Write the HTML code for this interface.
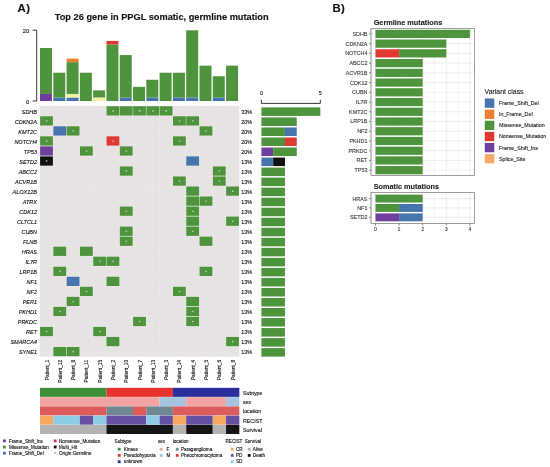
<!DOCTYPE html>
<html lang="en"><head><meta charset="utf-8"><title>Top 26 gene in PPGL somatic, germline mutation</title>
<style>
html,body{margin:0;padding:0;background:#fff;}
body{width:550px;height:467px;overflow:hidden;}
svg{display:block;font-family:"Liberation Sans",Arial,sans-serif;filter:blur(0.45px);}
</style></head><body>
<svg width="550" height="467" viewBox="0 0 550 467">
<rect x="0" y="0" width="550" height="467" fill="#ffffff"/>
<text x="17.60" y="11.90" font-size="11.4" text-anchor="start" font-weight="bold" font-style="normal" fill="#111" stroke="#111" stroke-width="0.12" letter-spacing="0.5">A)</text>
<text x="54.80" y="20.00" font-size="9.23" text-anchor="start" font-weight="bold" font-style="normal" fill="#111" stroke="#111" stroke-width="0.12" >Top 26 gene in PPGL somatic, germline mutation</text>
<text x="332.40" y="11.90" font-size="11.4" text-anchor="start" font-weight="bold" font-style="normal" fill="#111" stroke="#111" stroke-width="0.12" letter-spacing="0.5">B)</text>
<rect x="40.00" y="105.90" width="199.35" height="250.75" fill="#e7e3e3" />
<line x1="53.29" y1="105.9" x2="53.29" y2="356.65" stroke="#f0eded" stroke-width="0.4"/>
<line x1="66.58" y1="105.9" x2="66.58" y2="356.65" stroke="#f0eded" stroke-width="0.4"/>
<line x1="79.87" y1="105.9" x2="79.87" y2="356.65" stroke="#f0eded" stroke-width="0.4"/>
<line x1="93.16" y1="105.9" x2="93.16" y2="356.65" stroke="#f0eded" stroke-width="0.4"/>
<line x1="106.45" y1="105.9" x2="106.45" y2="356.65" stroke="#f0eded" stroke-width="0.4"/>
<line x1="119.74" y1="105.9" x2="119.74" y2="356.65" stroke="#f0eded" stroke-width="0.4"/>
<line x1="133.03" y1="105.9" x2="133.03" y2="356.65" stroke="#f0eded" stroke-width="0.4"/>
<line x1="146.32" y1="105.9" x2="146.32" y2="356.65" stroke="#f0eded" stroke-width="0.4"/>
<line x1="159.61" y1="105.9" x2="159.61" y2="356.65" stroke="#f0eded" stroke-width="0.4"/>
<line x1="172.90" y1="105.9" x2="172.90" y2="356.65" stroke="#f0eded" stroke-width="0.4"/>
<line x1="186.19" y1="105.9" x2="186.19" y2="356.65" stroke="#f0eded" stroke-width="0.4"/>
<line x1="199.48" y1="105.9" x2="199.48" y2="356.65" stroke="#f0eded" stroke-width="0.4"/>
<line x1="212.77" y1="105.9" x2="212.77" y2="356.65" stroke="#f0eded" stroke-width="0.4"/>
<line x1="226.06" y1="105.9" x2="226.06" y2="356.65" stroke="#f0eded" stroke-width="0.4"/>
<line x1="40.0" y1="115.93" x2="239.35" y2="115.93" stroke="#f0eded" stroke-width="0.4"/>
<line x1="40.0" y1="125.96" x2="239.35" y2="125.96" stroke="#f0eded" stroke-width="0.4"/>
<line x1="40.0" y1="135.99" x2="239.35" y2="135.99" stroke="#f0eded" stroke-width="0.4"/>
<line x1="40.0" y1="146.02" x2="239.35" y2="146.02" stroke="#f0eded" stroke-width="0.4"/>
<line x1="40.0" y1="156.05" x2="239.35" y2="156.05" stroke="#f0eded" stroke-width="0.4"/>
<line x1="40.0" y1="166.08" x2="239.35" y2="166.08" stroke="#f0eded" stroke-width="0.4"/>
<line x1="40.0" y1="176.11" x2="239.35" y2="176.11" stroke="#f0eded" stroke-width="0.4"/>
<line x1="40.0" y1="186.14" x2="239.35" y2="186.14" stroke="#f0eded" stroke-width="0.4"/>
<line x1="40.0" y1="196.17" x2="239.35" y2="196.17" stroke="#f0eded" stroke-width="0.4"/>
<line x1="40.0" y1="206.20" x2="239.35" y2="206.20" stroke="#f0eded" stroke-width="0.4"/>
<line x1="40.0" y1="216.23" x2="239.35" y2="216.23" stroke="#f0eded" stroke-width="0.4"/>
<line x1="40.0" y1="226.26" x2="239.35" y2="226.26" stroke="#f0eded" stroke-width="0.4"/>
<line x1="40.0" y1="236.29" x2="239.35" y2="236.29" stroke="#f0eded" stroke-width="0.4"/>
<line x1="40.0" y1="246.32" x2="239.35" y2="246.32" stroke="#f0eded" stroke-width="0.4"/>
<line x1="40.0" y1="256.35" x2="239.35" y2="256.35" stroke="#f0eded" stroke-width="0.4"/>
<line x1="40.0" y1="266.38" x2="239.35" y2="266.38" stroke="#f0eded" stroke-width="0.4"/>
<line x1="40.0" y1="276.41" x2="239.35" y2="276.41" stroke="#f0eded" stroke-width="0.4"/>
<line x1="40.0" y1="286.44" x2="239.35" y2="286.44" stroke="#f0eded" stroke-width="0.4"/>
<line x1="40.0" y1="296.47" x2="239.35" y2="296.47" stroke="#f0eded" stroke-width="0.4"/>
<line x1="40.0" y1="306.50" x2="239.35" y2="306.50" stroke="#f0eded" stroke-width="0.4"/>
<line x1="40.0" y1="316.53" x2="239.35" y2="316.53" stroke="#f0eded" stroke-width="0.4"/>
<line x1="40.0" y1="326.56" x2="239.35" y2="326.56" stroke="#f0eded" stroke-width="0.4"/>
<line x1="40.0" y1="336.59" x2="239.35" y2="336.59" stroke="#f0eded" stroke-width="0.4"/>
<line x1="40.0" y1="346.62" x2="239.35" y2="346.62" stroke="#f0eded" stroke-width="0.4"/>
<rect x="106.55" y="106.25" width="12.79" height="9.23" fill="#4e943c" />
<circle cx="113.09" cy="110.92" r="0.8" fill="#cfd4cc"/>
<rect x="119.84" y="106.25" width="12.79" height="9.23" fill="#4e943c" />
<rect x="133.13" y="106.25" width="12.79" height="9.23" fill="#4e943c" />
<circle cx="139.68" cy="110.92" r="0.8" fill="#cfd4cc"/>
<rect x="146.42" y="106.25" width="12.79" height="9.23" fill="#4e943c" />
<circle cx="152.97" cy="110.92" r="0.8" fill="#cfd4cc"/>
<rect x="159.71" y="106.25" width="12.79" height="9.23" fill="#4e943c" />
<circle cx="166.25" cy="110.92" r="0.8" fill="#cfd4cc"/>
<rect x="40.10" y="116.28" width="12.79" height="9.23" fill="#4e943c" />
<circle cx="46.64" cy="120.95" r="0.8" fill="#cfd4cc"/>
<rect x="173.00" y="116.28" width="12.79" height="9.23" fill="#4e943c" />
<circle cx="179.54" cy="120.95" r="0.8" fill="#cfd4cc"/>
<rect x="186.29" y="116.28" width="12.79" height="9.23" fill="#4e943c" />
<circle cx="192.84" cy="120.95" r="0.8" fill="#cfd4cc"/>
<rect x="53.39" y="126.31" width="12.79" height="9.23" fill="#4675ad" />
<rect x="66.68" y="126.31" width="12.79" height="9.23" fill="#4e943c" />
<circle cx="73.22" cy="130.97" r="0.8" fill="#cfd4cc"/>
<rect x="199.58" y="126.31" width="12.79" height="9.23" fill="#4e943c" />
<circle cx="206.12" cy="130.97" r="0.8" fill="#cfd4cc"/>
<rect x="40.10" y="136.34" width="12.79" height="9.23" fill="#4e943c" />
<circle cx="46.64" cy="141.00" r="0.8" fill="#cfd4cc"/>
<rect x="106.55" y="136.34" width="12.79" height="9.23" fill="#de3a32" />
<circle cx="113.09" cy="141.00" r="0.8" fill="#cfd4cc"/>
<rect x="173.00" y="136.34" width="12.79" height="9.23" fill="#4e943c" />
<circle cx="179.54" cy="141.00" r="0.8" fill="#cfd4cc"/>
<rect x="40.10" y="146.37" width="12.79" height="9.23" fill="#6e3f9e" />
<rect x="79.97" y="146.37" width="12.79" height="9.23" fill="#4e943c" />
<circle cx="86.52" cy="151.03" r="0.8" fill="#cfd4cc"/>
<rect x="119.84" y="146.37" width="12.79" height="9.23" fill="#4e943c" />
<circle cx="126.38" cy="151.03" r="0.8" fill="#cfd4cc"/>
<rect x="40.10" y="156.40" width="12.79" height="9.23" fill="#111111" />
<circle cx="46.64" cy="161.06" r="0.8" fill="#cfd4cc"/>
<rect x="186.29" y="156.40" width="12.79" height="9.23" fill="#4675ad" />
<rect x="119.84" y="166.43" width="12.79" height="9.23" fill="#4e943c" />
<circle cx="126.38" cy="171.09" r="0.8" fill="#cfd4cc"/>
<rect x="212.87" y="166.43" width="12.79" height="9.23" fill="#4e943c" />
<circle cx="219.41" cy="171.09" r="0.8" fill="#cfd4cc"/>
<rect x="173.00" y="176.46" width="12.79" height="9.23" fill="#4e943c" />
<circle cx="179.54" cy="181.12" r="0.8" fill="#cfd4cc"/>
<rect x="212.87" y="176.46" width="12.79" height="9.23" fill="#4e943c" />
<circle cx="219.41" cy="181.12" r="0.8" fill="#cfd4cc"/>
<rect x="186.29" y="186.49" width="12.79" height="9.23" fill="#4e943c" />
<rect x="226.16" y="186.49" width="12.79" height="9.23" fill="#4e943c" />
<circle cx="232.71" cy="191.15" r="0.8" fill="#cfd4cc"/>
<rect x="186.29" y="196.52" width="12.79" height="9.23" fill="#4e943c" />
<rect x="199.58" y="196.52" width="12.79" height="9.23" fill="#4e943c" />
<circle cx="206.12" cy="201.19" r="0.8" fill="#cfd4cc"/>
<rect x="119.84" y="206.55" width="12.79" height="9.23" fill="#4e943c" />
<circle cx="126.38" cy="211.21" r="0.8" fill="#cfd4cc"/>
<rect x="186.29" y="206.55" width="12.79" height="9.23" fill="#4e943c" />
<circle cx="192.84" cy="211.21" r="0.8" fill="#cfd4cc"/>
<rect x="186.29" y="216.58" width="12.79" height="9.23" fill="#4e943c" />
<rect x="226.16" y="216.58" width="12.79" height="9.23" fill="#4e943c" />
<circle cx="232.71" cy="221.25" r="0.8" fill="#cfd4cc"/>
<rect x="119.84" y="226.61" width="12.79" height="9.23" fill="#4e943c" />
<circle cx="126.38" cy="231.27" r="0.8" fill="#cfd4cc"/>
<rect x="186.29" y="226.61" width="12.79" height="9.23" fill="#4e943c" />
<circle cx="192.84" cy="231.27" r="0.8" fill="#cfd4cc"/>
<rect x="119.84" y="236.64" width="12.79" height="9.23" fill="#4e943c" />
<circle cx="126.38" cy="241.30" r="0.8" fill="#cfd4cc"/>
<rect x="199.58" y="236.64" width="12.79" height="9.23" fill="#4e943c" />
<rect x="53.39" y="246.67" width="12.79" height="9.23" fill="#4e943c" />
<rect x="79.97" y="246.67" width="12.79" height="9.23" fill="#4e943c" />
<rect x="93.26" y="256.70" width="12.79" height="9.23" fill="#4e943c" />
<circle cx="99.80" cy="261.37" r="0.8" fill="#cfd4cc"/>
<rect x="106.55" y="256.70" width="12.79" height="9.23" fill="#4e943c" />
<circle cx="113.09" cy="261.37" r="0.8" fill="#cfd4cc"/>
<rect x="53.39" y="266.73" width="12.79" height="9.23" fill="#4e943c" />
<circle cx="59.94" cy="271.39" r="0.8" fill="#cfd4cc"/>
<rect x="199.58" y="266.73" width="12.79" height="9.23" fill="#4e943c" />
<circle cx="206.12" cy="271.39" r="0.8" fill="#cfd4cc"/>
<rect x="66.68" y="276.76" width="12.79" height="9.23" fill="#4675ad" />
<rect x="106.55" y="276.76" width="12.79" height="9.23" fill="#4e943c" />
<rect x="79.97" y="286.79" width="12.79" height="9.23" fill="#4e943c" />
<circle cx="86.52" cy="291.45" r="0.8" fill="#cfd4cc"/>
<rect x="173.00" y="286.79" width="12.79" height="9.23" fill="#4e943c" />
<circle cx="179.54" cy="291.45" r="0.8" fill="#cfd4cc"/>
<rect x="66.68" y="296.82" width="12.79" height="9.23" fill="#4e943c" />
<circle cx="73.22" cy="301.49" r="0.8" fill="#cfd4cc"/>
<rect x="186.29" y="296.82" width="12.79" height="9.23" fill="#4e943c" />
<rect x="53.39" y="306.85" width="12.79" height="9.23" fill="#4e943c" />
<circle cx="59.94" cy="311.51" r="0.8" fill="#cfd4cc"/>
<rect x="186.29" y="306.85" width="12.79" height="9.23" fill="#4e943c" />
<circle cx="192.84" cy="311.51" r="0.8" fill="#cfd4cc"/>
<rect x="133.13" y="316.88" width="12.79" height="9.23" fill="#4e943c" />
<circle cx="139.68" cy="321.54" r="0.8" fill="#cfd4cc"/>
<rect x="186.29" y="316.88" width="12.79" height="9.23" fill="#4e943c" />
<circle cx="192.84" cy="321.54" r="0.8" fill="#cfd4cc"/>
<rect x="40.10" y="326.91" width="12.79" height="9.23" fill="#4e943c" />
<circle cx="46.64" cy="331.57" r="0.8" fill="#cfd4cc"/>
<rect x="93.26" y="326.91" width="12.79" height="9.23" fill="#4e943c" />
<circle cx="99.80" cy="331.57" r="0.8" fill="#cfd4cc"/>
<rect x="106.55" y="336.94" width="12.79" height="9.23" fill="#4e943c" />
<rect x="226.16" y="336.94" width="12.79" height="9.23" fill="#4e943c" />
<circle cx="232.71" cy="341.61" r="0.8" fill="#cfd4cc"/>
<rect x="53.39" y="346.97" width="12.79" height="9.23" fill="#4e943c" />
<rect x="66.68" y="346.97" width="12.79" height="9.23" fill="#4e943c" />
<circle cx="73.22" cy="351.63" r="0.8" fill="#cfd4cc"/>
<text x="37.00" y="113.50" font-size="5.5" text-anchor="end" font-weight="normal" font-style="italic" fill="#111" stroke="#111" stroke-width="0.12" >SDHB</text>
<text x="241.20" y="113.70" font-size="5.4" text-anchor="start" font-weight="normal" font-style="normal" fill="#111" stroke="#111" stroke-width="0.12" >33%</text>
<text x="37.00" y="123.53" font-size="5.5" text-anchor="end" font-weight="normal" font-style="italic" fill="#111" stroke="#111" stroke-width="0.12" >CDKN2A</text>
<text x="241.20" y="123.73" font-size="5.4" text-anchor="start" font-weight="normal" font-style="normal" fill="#111" stroke="#111" stroke-width="0.12" >20%</text>
<text x="37.00" y="133.56" font-size="5.5" text-anchor="end" font-weight="normal" font-style="italic" fill="#111" stroke="#111" stroke-width="0.12" >KMT2C</text>
<text x="241.20" y="133.76" font-size="5.4" text-anchor="start" font-weight="normal" font-style="normal" fill="#111" stroke="#111" stroke-width="0.12" >20%</text>
<text x="37.00" y="143.59" font-size="5.5" text-anchor="end" font-weight="normal" font-style="italic" fill="#111" stroke="#111" stroke-width="0.12" >NOTCH4</text>
<text x="241.20" y="143.79" font-size="5.4" text-anchor="start" font-weight="normal" font-style="normal" fill="#111" stroke="#111" stroke-width="0.12" >20%</text>
<text x="37.00" y="153.62" font-size="5.5" text-anchor="end" font-weight="normal" font-style="italic" fill="#111" stroke="#111" stroke-width="0.12" >TP53</text>
<text x="241.20" y="153.82" font-size="5.4" text-anchor="start" font-weight="normal" font-style="normal" fill="#111" stroke="#111" stroke-width="0.12" >20%</text>
<text x="37.00" y="163.65" font-size="5.5" text-anchor="end" font-weight="normal" font-style="italic" fill="#111" stroke="#111" stroke-width="0.12" >SETD2</text>
<text x="241.20" y="163.85" font-size="5.4" text-anchor="start" font-weight="normal" font-style="normal" fill="#111" stroke="#111" stroke-width="0.12" >13%</text>
<text x="37.00" y="173.68" font-size="5.5" text-anchor="end" font-weight="normal" font-style="italic" fill="#111" stroke="#111" stroke-width="0.12" >ABCC2</text>
<text x="241.20" y="173.88" font-size="5.4" text-anchor="start" font-weight="normal" font-style="normal" fill="#111" stroke="#111" stroke-width="0.12" >13%</text>
<text x="37.00" y="183.71" font-size="5.5" text-anchor="end" font-weight="normal" font-style="italic" fill="#111" stroke="#111" stroke-width="0.12" >ACVR1B</text>
<text x="241.20" y="183.91" font-size="5.4" text-anchor="start" font-weight="normal" font-style="normal" fill="#111" stroke="#111" stroke-width="0.12" >13%</text>
<text x="37.00" y="193.74" font-size="5.5" text-anchor="end" font-weight="normal" font-style="italic" fill="#111" stroke="#111" stroke-width="0.12" >ALOX12B</text>
<text x="241.20" y="193.94" font-size="5.4" text-anchor="start" font-weight="normal" font-style="normal" fill="#111" stroke="#111" stroke-width="0.12" >13%</text>
<text x="37.00" y="203.77" font-size="5.5" text-anchor="end" font-weight="normal" font-style="italic" fill="#111" stroke="#111" stroke-width="0.12" >ATRX</text>
<text x="241.20" y="203.97" font-size="5.4" text-anchor="start" font-weight="normal" font-style="normal" fill="#111" stroke="#111" stroke-width="0.12" >13%</text>
<text x="37.00" y="213.80" font-size="5.5" text-anchor="end" font-weight="normal" font-style="italic" fill="#111" stroke="#111" stroke-width="0.12" >CDK12</text>
<text x="241.20" y="214.00" font-size="5.4" text-anchor="start" font-weight="normal" font-style="normal" fill="#111" stroke="#111" stroke-width="0.12" >13%</text>
<text x="37.00" y="223.83" font-size="5.5" text-anchor="end" font-weight="normal" font-style="italic" fill="#111" stroke="#111" stroke-width="0.12" >CLTCL1</text>
<text x="241.20" y="224.03" font-size="5.4" text-anchor="start" font-weight="normal" font-style="normal" fill="#111" stroke="#111" stroke-width="0.12" >13%</text>
<text x="37.00" y="233.86" font-size="5.5" text-anchor="end" font-weight="normal" font-style="italic" fill="#111" stroke="#111" stroke-width="0.12" >CUBN</text>
<text x="241.20" y="234.06" font-size="5.4" text-anchor="start" font-weight="normal" font-style="normal" fill="#111" stroke="#111" stroke-width="0.12" >13%</text>
<text x="37.00" y="243.89" font-size="5.5" text-anchor="end" font-weight="normal" font-style="italic" fill="#111" stroke="#111" stroke-width="0.12" >FLNB</text>
<text x="241.20" y="244.09" font-size="5.4" text-anchor="start" font-weight="normal" font-style="normal" fill="#111" stroke="#111" stroke-width="0.12" >13%</text>
<text x="37.00" y="253.92" font-size="5.5" text-anchor="end" font-weight="normal" font-style="italic" fill="#111" stroke="#111" stroke-width="0.12" >HRAS</text>
<text x="241.20" y="254.12" font-size="5.4" text-anchor="start" font-weight="normal" font-style="normal" fill="#111" stroke="#111" stroke-width="0.12" >13%</text>
<text x="37.00" y="263.95" font-size="5.5" text-anchor="end" font-weight="normal" font-style="italic" fill="#111" stroke="#111" stroke-width="0.12" >IL7R</text>
<text x="241.20" y="264.15" font-size="5.4" text-anchor="start" font-weight="normal" font-style="normal" fill="#111" stroke="#111" stroke-width="0.12" >13%</text>
<text x="37.00" y="273.98" font-size="5.5" text-anchor="end" font-weight="normal" font-style="italic" fill="#111" stroke="#111" stroke-width="0.12" >LRP1B</text>
<text x="241.20" y="274.18" font-size="5.4" text-anchor="start" font-weight="normal" font-style="normal" fill="#111" stroke="#111" stroke-width="0.12" >13%</text>
<text x="37.00" y="284.01" font-size="5.5" text-anchor="end" font-weight="normal" font-style="italic" fill="#111" stroke="#111" stroke-width="0.12" >NF1</text>
<text x="241.20" y="284.21" font-size="5.4" text-anchor="start" font-weight="normal" font-style="normal" fill="#111" stroke="#111" stroke-width="0.12" >13%</text>
<text x="37.00" y="294.04" font-size="5.5" text-anchor="end" font-weight="normal" font-style="italic" fill="#111" stroke="#111" stroke-width="0.12" >NF2</text>
<text x="241.20" y="294.24" font-size="5.4" text-anchor="start" font-weight="normal" font-style="normal" fill="#111" stroke="#111" stroke-width="0.12" >13%</text>
<text x="37.00" y="304.07" font-size="5.5" text-anchor="end" font-weight="normal" font-style="italic" fill="#111" stroke="#111" stroke-width="0.12" >PER1</text>
<text x="241.20" y="304.27" font-size="5.4" text-anchor="start" font-weight="normal" font-style="normal" fill="#111" stroke="#111" stroke-width="0.12" >13%</text>
<text x="37.00" y="314.10" font-size="5.5" text-anchor="end" font-weight="normal" font-style="italic" fill="#111" stroke="#111" stroke-width="0.12" >PKHD1</text>
<text x="241.20" y="314.30" font-size="5.4" text-anchor="start" font-weight="normal" font-style="normal" fill="#111" stroke="#111" stroke-width="0.12" >13%</text>
<text x="37.00" y="324.13" font-size="5.5" text-anchor="end" font-weight="normal" font-style="italic" fill="#111" stroke="#111" stroke-width="0.12" >PRKDC</text>
<text x="241.20" y="324.33" font-size="5.4" text-anchor="start" font-weight="normal" font-style="normal" fill="#111" stroke="#111" stroke-width="0.12" >13%</text>
<text x="37.00" y="334.16" font-size="5.5" text-anchor="end" font-weight="normal" font-style="italic" fill="#111" stroke="#111" stroke-width="0.12" >RET</text>
<text x="241.20" y="334.36" font-size="5.4" text-anchor="start" font-weight="normal" font-style="normal" fill="#111" stroke="#111" stroke-width="0.12" >13%</text>
<text x="37.00" y="344.19" font-size="5.5" text-anchor="end" font-weight="normal" font-style="italic" fill="#111" stroke="#111" stroke-width="0.12" >SMARCA4</text>
<text x="241.20" y="344.39" font-size="5.4" text-anchor="start" font-weight="normal" font-style="normal" fill="#111" stroke="#111" stroke-width="0.12" >13%</text>
<text x="37.00" y="354.22" font-size="5.5" text-anchor="end" font-weight="normal" font-style="italic" fill="#111" stroke="#111" stroke-width="0.12" >SYNE1</text>
<text x="241.20" y="354.42" font-size="5.4" text-anchor="start" font-weight="normal" font-style="normal" fill="#111" stroke="#111" stroke-width="0.12" >13%</text>
<rect x="40.00" y="93.93" width="11.99" height="7.07" fill="#6e3f9e" />
<rect x="40.00" y="47.98" width="11.99" height="45.95" fill="#4e943c" />
<rect x="53.29" y="97.47" width="11.99" height="3.54" fill="#4675ad" />
<rect x="53.29" y="72.72" width="11.99" height="24.75" fill="#4e943c" />
<rect x="66.58" y="97.47" width="11.99" height="3.54" fill="#4675ad" />
<rect x="66.58" y="93.93" width="11.99" height="3.54" fill="#f0f09a" />
<rect x="66.58" y="62.12" width="11.99" height="31.82" fill="#4e943c" />
<rect x="66.58" y="58.58" width="11.99" height="3.54" fill="#f07f34" />
<rect x="79.87" y="72.72" width="11.99" height="28.28" fill="#4e943c" />
<rect x="93.16" y="97.47" width="11.99" height="3.54" fill="#f0f09a" />
<rect x="93.16" y="90.40" width="11.99" height="7.07" fill="#4e943c" />
<rect x="106.45" y="44.44" width="11.99" height="56.56" fill="#4e943c" />
<rect x="106.45" y="40.91" width="11.99" height="3.54" fill="#de3a32" />
<rect x="119.74" y="97.47" width="11.99" height="3.54" fill="#4675ad" />
<rect x="119.74" y="55.05" width="11.99" height="42.42" fill="#4e943c" />
<rect x="133.03" y="86.86" width="11.99" height="14.14" fill="#4e943c" />
<rect x="146.32" y="97.47" width="11.99" height="3.54" fill="#4675ad" />
<rect x="146.32" y="79.79" width="11.99" height="17.68" fill="#4e943c" />
<rect x="159.61" y="72.72" width="11.99" height="28.28" fill="#4e943c" />
<rect x="172.90" y="97.47" width="11.99" height="3.54" fill="#4675ad" />
<rect x="172.90" y="72.72" width="11.99" height="24.75" fill="#4e943c" />
<rect x="186.19" y="97.47" width="11.99" height="3.54" fill="#4675ad" />
<rect x="186.19" y="30.30" width="11.99" height="67.17" fill="#4e943c" />
<rect x="199.48" y="65.65" width="11.99" height="35.35" fill="#4e943c" />
<rect x="212.77" y="97.47" width="11.99" height="3.54" fill="#4675ad" />
<rect x="212.77" y="76.25" width="11.99" height="21.21" fill="#4e943c" />
<rect x="226.06" y="65.65" width="11.99" height="35.35" fill="#4e943c" />
<path d="M32.6 101.0 H36.7 V30.2 H32.6" fill="none" stroke="#222" stroke-width="0.9"/>
<text x="29.20" y="32.60" font-size="5.7" text-anchor="end" font-weight="normal" font-style="normal" fill="#111" stroke="#111" stroke-width="0.12" >20</text>
<text x="29.20" y="103.60" font-size="5.7" text-anchor="end" font-weight="normal" font-style="normal" fill="#111" stroke="#111" stroke-width="0.12" >0</text>
<rect x="261.40" y="107.40" width="58.90" height="8.53" fill="#4e943c" />
<rect x="261.40" y="117.43" width="35.34" height="8.53" fill="#4e943c" />
<rect x="261.40" y="127.46" width="23.56" height="8.53" fill="#4e943c" />
<rect x="284.96" y="127.46" width="11.78" height="8.53" fill="#4675ad" />
<rect x="261.40" y="137.49" width="23.56" height="8.53" fill="#4e943c" />
<rect x="284.96" y="137.49" width="11.78" height="8.53" fill="#de3a32" />
<rect x="261.40" y="147.52" width="11.78" height="8.53" fill="#6e3f9e" />
<rect x="273.18" y="147.52" width="23.56" height="8.53" fill="#4e943c" />
<rect x="261.40" y="157.55" width="11.78" height="8.53" fill="#4675ad" />
<rect x="273.18" y="157.55" width="11.78" height="8.53" fill="#111111" />
<rect x="261.40" y="167.58" width="23.56" height="8.53" fill="#4e943c" />
<rect x="261.40" y="177.61" width="23.56" height="8.53" fill="#4e943c" />
<rect x="261.40" y="187.64" width="23.56" height="8.53" fill="#4e943c" />
<rect x="261.40" y="197.67" width="23.56" height="8.53" fill="#4e943c" />
<rect x="261.40" y="207.70" width="23.56" height="8.53" fill="#4e943c" />
<rect x="261.40" y="217.73" width="23.56" height="8.53" fill="#4e943c" />
<rect x="261.40" y="227.76" width="23.56" height="8.53" fill="#4e943c" />
<rect x="261.40" y="237.79" width="23.56" height="8.53" fill="#4e943c" />
<rect x="261.40" y="247.82" width="23.56" height="8.53" fill="#4e943c" />
<rect x="261.40" y="257.85" width="23.56" height="8.53" fill="#4e943c" />
<rect x="261.40" y="267.88" width="23.56" height="8.53" fill="#4e943c" />
<rect x="261.40" y="277.91" width="23.56" height="8.53" fill="#4e943c" />
<rect x="261.40" y="287.94" width="23.56" height="8.53" fill="#4e943c" />
<rect x="261.40" y="297.97" width="23.56" height="8.53" fill="#4e943c" />
<rect x="261.40" y="308.00" width="23.56" height="8.53" fill="#4e943c" />
<rect x="261.40" y="318.03" width="23.56" height="8.53" fill="#4e943c" />
<rect x="261.40" y="328.06" width="23.56" height="8.53" fill="#4e943c" />
<rect x="261.40" y="338.09" width="23.56" height="8.53" fill="#4e943c" />
<rect x="261.40" y="348.12" width="23.56" height="8.53" fill="#4e943c" />
<path d="M261.4 99.8 V103.4 H320.30 V99.8" fill="none" stroke="#222" stroke-width="0.9"/>
<text x="261.40" y="95.40" font-size="5.4" text-anchor="middle" font-weight="normal" font-style="normal" fill="#111" stroke="#111" stroke-width="0.12" >0</text>
<text x="320.30" y="95.40" font-size="5.4" text-anchor="middle" font-weight="normal" font-style="normal" fill="#111" stroke="#111" stroke-width="0.12" >5</text>
<text transform="translate(48.54,359.8) rotate(-90)" font-size="4.8" text-anchor="end" fill="#111" stroke="#111" stroke-width="0.12">Patient_1</text>
<text transform="translate(61.84,359.8) rotate(-90)" font-size="4.8" text-anchor="end" fill="#111" stroke="#111" stroke-width="0.12">Patient_12</text>
<text transform="translate(75.12,359.8) rotate(-90)" font-size="4.8" text-anchor="end" fill="#111" stroke="#111" stroke-width="0.12">Patient_8</text>
<text transform="translate(88.42,359.8) rotate(-90)" font-size="4.8" text-anchor="end" fill="#111" stroke="#111" stroke-width="0.12">Patient_11</text>
<text transform="translate(101.70,359.8) rotate(-90)" font-size="4.8" text-anchor="end" fill="#111" stroke="#111" stroke-width="0.12">Patient_15</text>
<text transform="translate(114.99,359.8) rotate(-90)" font-size="4.8" text-anchor="end" fill="#111" stroke="#111" stroke-width="0.12">Patient_2</text>
<text transform="translate(128.28,359.8) rotate(-90)" font-size="4.8" text-anchor="end" fill="#111" stroke="#111" stroke-width="0.12">Patient_10</text>
<text transform="translate(141.58,359.8) rotate(-90)" font-size="4.8" text-anchor="end" fill="#111" stroke="#111" stroke-width="0.12">Patient_7</text>
<text transform="translate(154.87,359.8) rotate(-90)" font-size="4.8" text-anchor="end" fill="#111" stroke="#111" stroke-width="0.12">Patient_13</text>
<text transform="translate(168.16,359.8) rotate(-90)" font-size="4.8" text-anchor="end" fill="#111" stroke="#111" stroke-width="0.12">Patient_3</text>
<text transform="translate(181.44,359.8) rotate(-90)" font-size="4.8" text-anchor="end" fill="#111" stroke="#111" stroke-width="0.12">Patient_14</text>
<text transform="translate(194.74,359.8) rotate(-90)" font-size="4.8" text-anchor="end" fill="#111" stroke="#111" stroke-width="0.12">Patient_4</text>
<text transform="translate(208.03,359.8) rotate(-90)" font-size="4.8" text-anchor="end" fill="#111" stroke="#111" stroke-width="0.12">Patient_5</text>
<text transform="translate(221.31,359.8) rotate(-90)" font-size="4.8" text-anchor="end" fill="#111" stroke="#111" stroke-width="0.12">Patient_6</text>
<text transform="translate(234.61,359.8) rotate(-90)" font-size="4.8" text-anchor="end" fill="#111" stroke="#111" stroke-width="0.12">Patient_9</text>
<rect x="40.00" y="387.82" width="66.45" height="9.04" fill="#3f8f3a" />
<rect x="106.45" y="387.82" width="66.45" height="9.04" fill="#e8322c" />
<rect x="172.90" y="387.82" width="66.45" height="9.04" fill="#2b2f9c" />
<text x="243.00" y="394.80" font-size="5.3" text-anchor="start" font-weight="normal" font-style="normal" fill="#111" stroke="#111" stroke-width="0.12" >Subtype</text>
<rect x="40.00" y="397.10" width="119.61" height="9.04" fill="#f4a3a3" />
<rect x="159.61" y="397.10" width="26.58" height="9.04" fill="#a6c3e0" />
<rect x="186.19" y="397.10" width="39.87" height="9.04" fill="#f4a3a3" />
<rect x="226.06" y="397.10" width="13.29" height="9.04" fill="#a6c3e0" />
<text x="243.00" y="404.08" font-size="5.3" text-anchor="start" font-weight="normal" font-style="normal" fill="#111" stroke="#111" stroke-width="0.12" >sex</text>
<rect x="40.00" y="406.38" width="66.45" height="9.04" fill="#dc5c5c" />
<rect x="106.45" y="406.38" width="26.58" height="9.04" fill="#6f8790" />
<rect x="133.03" y="406.38" width="13.29" height="9.04" fill="#dc5c5c" />
<rect x="146.32" y="406.38" width="26.58" height="9.04" fill="#6f8790" />
<rect x="172.90" y="406.38" width="66.45" height="9.04" fill="#dc5c5c" />
<text x="243.00" y="413.36" font-size="5.3" text-anchor="start" font-weight="normal" font-style="normal" fill="#111" stroke="#111" stroke-width="0.12" >location</text>
<rect x="40.00" y="415.66" width="13.29" height="9.04" fill="#f4a860" />
<rect x="53.29" y="415.66" width="26.58" height="9.04" fill="#8ecbe6" />
<rect x="79.87" y="415.66" width="13.29" height="9.04" fill="#6650a4" />
<rect x="93.16" y="415.66" width="13.29" height="9.04" fill="#8ecbe6" />
<rect x="106.45" y="415.66" width="39.87" height="9.04" fill="#6650a4" />
<rect x="146.32" y="415.66" width="13.29" height="9.04" fill="#8ecbe6" />
<rect x="159.61" y="415.66" width="13.29" height="9.04" fill="#6650a4" />
<rect x="172.90" y="415.66" width="13.29" height="9.04" fill="#f4a860" />
<rect x="186.19" y="415.66" width="26.58" height="9.04" fill="#6650a4" />
<rect x="212.77" y="415.66" width="13.29" height="9.04" fill="#f4a860" />
<rect x="226.06" y="415.66" width="13.29" height="9.04" fill="#6650a4" />
<text x="243.00" y="422.64" font-size="5.3" text-anchor="start" font-weight="normal" font-style="normal" fill="#111" stroke="#111" stroke-width="0.12" >RECIST</text>
<rect x="40.00" y="424.94" width="66.45" height="9.04" fill="#b3b3b3" />
<rect x="106.45" y="424.94" width="66.45" height="9.04" fill="#151515" />
<rect x="172.90" y="424.94" width="13.29" height="9.04" fill="#b3b3b3" />
<rect x="186.19" y="424.94" width="26.58" height="9.04" fill="#151515" />
<rect x="212.77" y="424.94" width="13.29" height="9.04" fill="#b3b3b3" />
<rect x="226.06" y="424.94" width="13.29" height="9.04" fill="#151515" />
<text x="243.00" y="431.92" font-size="5.3" text-anchor="start" font-weight="normal" font-style="normal" fill="#111" stroke="#111" stroke-width="0.12" >Survival</text>
<rect x="3.00" y="439.50" width="2.80" height="2.80" fill="#6e3f9e" />
<text x="8.90" y="442.50" font-size="4.65" text-anchor="start" font-weight="normal" font-style="normal" fill="#111" stroke="#111" stroke-width="0.12" >Frame_Shift_Ins</text>
<rect x="3.00" y="445.60" width="2.80" height="2.80" fill="#4e943c" />
<text x="8.90" y="448.60" font-size="4.65" text-anchor="start" font-weight="normal" font-style="normal" fill="#111" stroke="#111" stroke-width="0.12" >Missense_Mutation</text>
<rect x="3.00" y="451.80" width="2.80" height="2.80" fill="#4675ad" />
<text x="8.90" y="454.80" font-size="4.65" text-anchor="start" font-weight="normal" font-style="normal" fill="#111" stroke="#111" stroke-width="0.12" >Frame_Shift_Del</text>
<rect x="53.80" y="439.50" width="2.80" height="2.80" fill="#de3a32" />
<text x="59.00" y="442.50" font-size="4.65" text-anchor="start" font-weight="normal" font-style="normal" fill="#111" stroke="#111" stroke-width="0.12" >Nonsense_Mutation</text>
<rect x="53.80" y="445.60" width="2.80" height="2.80" fill="#111111" />
<text x="59.00" y="448.60" font-size="4.65" text-anchor="start" font-weight="normal" font-style="normal" fill="#111" stroke="#111" stroke-width="0.12" >Multi_Hit</text>
<text x="55.20" y="455.80" font-size="5" text-anchor="middle" font-weight="normal" font-style="normal" fill="#999" stroke="#999" stroke-width="0.12" >*</text>
<text x="59.00" y="454.80" font-size="4.65" text-anchor="start" font-weight="normal" font-style="normal" fill="#111" stroke="#111" stroke-width="0.12" >Origin:Germline</text>
<text x="114.60" y="442.50" font-size="4.6" text-anchor="start" font-weight="normal" font-style="normal" fill="#111" stroke="#111" stroke-width="0.12" >Subtype</text>
<text x="158.00" y="442.50" font-size="4.6" text-anchor="start" font-weight="normal" font-style="normal" fill="#111" stroke="#111" stroke-width="0.12" >sex</text>
<text x="172.70" y="442.50" font-size="4.6" text-anchor="start" font-weight="normal" font-style="normal" fill="#111" stroke="#111" stroke-width="0.12" >location</text>
<text x="225.50" y="442.50" font-size="4.6" text-anchor="start" font-weight="normal" font-style="normal" fill="#111" stroke="#111" stroke-width="0.12" >RECIST</text>
<text x="244.70" y="442.50" font-size="4.6" text-anchor="start" font-weight="normal" font-style="normal" fill="#111" stroke="#111" stroke-width="0.12" >Survival</text>
<rect x="117.80" y="447.80" width="2.80" height="2.80" fill="#3f8f3a" />
<text x="123.80" y="450.80" font-size="4.65" text-anchor="start" font-weight="normal" font-style="normal" fill="#111" stroke="#111" stroke-width="0.12" >Kinase</text>
<rect x="117.80" y="454.00" width="2.80" height="2.80" fill="#e8322c" />
<text x="123.80" y="457.00" font-size="4.65" text-anchor="start" font-weight="normal" font-style="normal" fill="#111" stroke="#111" stroke-width="0.12" >Pseudohypoxia</text>
<rect x="117.80" y="460.30" width="2.80" height="2.80" fill="#2b2f9c" />
<text x="123.80" y="463.30" font-size="4.65" text-anchor="start" font-weight="normal" font-style="normal" fill="#111" stroke="#111" stroke-width="0.12" >unknown</text>
<rect x="159.80" y="447.80" width="2.80" height="2.80" fill="#f4a3a3" />
<text x="166.50" y="450.80" font-size="4.65" text-anchor="start" font-weight="normal" font-style="normal" fill="#111" stroke="#111" stroke-width="0.12" >F</text>
<rect x="159.80" y="454.00" width="2.80" height="2.80" fill="#a6c3e0" />
<text x="166.50" y="457.00" font-size="4.65" text-anchor="start" font-weight="normal" font-style="normal" fill="#111" stroke="#111" stroke-width="0.12" >M</text>
<rect x="175.80" y="447.80" width="2.80" height="2.80" fill="#6f8790" />
<text x="181.00" y="450.80" font-size="4.65" text-anchor="start" font-weight="normal" font-style="normal" fill="#111" stroke="#111" stroke-width="0.12" >Paraganglioma</text>
<rect x="175.80" y="454.00" width="2.80" height="2.80" fill="#e8322c" />
<text x="181.00" y="457.00" font-size="4.65" text-anchor="start" font-weight="normal" font-style="normal" fill="#111" stroke="#111" stroke-width="0.12" >Pheochromocytoma</text>
<rect x="230.80" y="447.80" width="2.80" height="2.80" fill="#f4a860" />
<text x="236.00" y="450.80" font-size="4.65" text-anchor="start" font-weight="normal" font-style="normal" fill="#111" stroke="#111" stroke-width="0.12" >CR</text>
<rect x="230.80" y="454.00" width="2.80" height="2.80" fill="#6650a4" />
<text x="236.00" y="457.00" font-size="4.65" text-anchor="start" font-weight="normal" font-style="normal" fill="#111" stroke="#111" stroke-width="0.12" >PD</text>
<rect x="230.80" y="460.30" width="2.80" height="2.80" fill="#8ecbe6" />
<text x="236.00" y="463.30" font-size="4.65" text-anchor="start" font-weight="normal" font-style="normal" fill="#111" stroke="#111" stroke-width="0.12" >SD</text>
<rect x="247.80" y="447.80" width="2.80" height="2.80" fill="#b3b3b3" />
<text x="252.80" y="450.80" font-size="4.65" text-anchor="start" font-weight="normal" font-style="normal" fill="#111" stroke="#111" stroke-width="0.12" >Alive</text>
<rect x="247.80" y="454.00" width="2.80" height="2.80" fill="#151515" />
<text x="252.80" y="457.00" font-size="4.65" text-anchor="start" font-weight="normal" font-style="normal" fill="#111" stroke="#111" stroke-width="0.12" >Death</text>
<text x="373.70" y="25.00" font-size="7.3" text-anchor="start" font-weight="bold" font-style="normal" fill="#222" stroke="#222" stroke-width="0.12" >Germline mutations</text>
<rect x="371.00" y="28.60" width="103.70" height="146.70" fill="#ffffff" stroke="#858585" stroke-width="0.55"/>
<line x1="375.50" y1="28.6" x2="375.50" y2="175.3" stroke="#dcdcdc" stroke-width="0.5"/>
<line x1="387.30" y1="28.6" x2="387.30" y2="175.3" stroke="#e8e8e8" stroke-width="0.4"/>
<line x1="399.10" y1="28.6" x2="399.10" y2="175.3" stroke="#dcdcdc" stroke-width="0.5"/>
<line x1="410.90" y1="28.6" x2="410.90" y2="175.3" stroke="#e8e8e8" stroke-width="0.4"/>
<line x1="422.70" y1="28.6" x2="422.70" y2="175.3" stroke="#dcdcdc" stroke-width="0.5"/>
<line x1="434.50" y1="28.6" x2="434.50" y2="175.3" stroke="#e8e8e8" stroke-width="0.4"/>
<line x1="446.30" y1="28.6" x2="446.30" y2="175.3" stroke="#dcdcdc" stroke-width="0.5"/>
<line x1="458.10" y1="28.6" x2="458.10" y2="175.3" stroke="#e8e8e8" stroke-width="0.4"/>
<line x1="469.90" y1="28.6" x2="469.90" y2="175.3" stroke="#dcdcdc" stroke-width="0.5"/>
<line x1="371.0" y1="33.90" x2="474.7" y2="33.90" stroke="#dcdcdc" stroke-width="0.5"/>
<line x1="371.0" y1="43.63" x2="474.7" y2="43.63" stroke="#dcdcdc" stroke-width="0.5"/>
<line x1="371.0" y1="53.37" x2="474.7" y2="53.37" stroke="#dcdcdc" stroke-width="0.5"/>
<line x1="371.0" y1="63.10" x2="474.7" y2="63.10" stroke="#dcdcdc" stroke-width="0.5"/>
<line x1="371.0" y1="72.84" x2="474.7" y2="72.84" stroke="#dcdcdc" stroke-width="0.5"/>
<line x1="371.0" y1="82.57" x2="474.7" y2="82.57" stroke="#dcdcdc" stroke-width="0.5"/>
<line x1="371.0" y1="92.31" x2="474.7" y2="92.31" stroke="#dcdcdc" stroke-width="0.5"/>
<line x1="371.0" y1="102.04" x2="474.7" y2="102.04" stroke="#dcdcdc" stroke-width="0.5"/>
<line x1="371.0" y1="111.78" x2="474.7" y2="111.78" stroke="#dcdcdc" stroke-width="0.5"/>
<line x1="371.0" y1="121.51" x2="474.7" y2="121.51" stroke="#dcdcdc" stroke-width="0.5"/>
<line x1="371.0" y1="131.25" x2="474.7" y2="131.25" stroke="#dcdcdc" stroke-width="0.5"/>
<line x1="371.0" y1="140.98" x2="474.7" y2="140.98" stroke="#dcdcdc" stroke-width="0.5"/>
<line x1="371.0" y1="150.72" x2="474.7" y2="150.72" stroke="#dcdcdc" stroke-width="0.5"/>
<line x1="371.0" y1="160.45" x2="474.7" y2="160.45" stroke="#dcdcdc" stroke-width="0.5"/>
<line x1="371.0" y1="170.19" x2="474.7" y2="170.19" stroke="#dcdcdc" stroke-width="0.5"/>
<rect x="375.50" y="29.80" width="94.40" height="8.20" fill="#4e943c" />
<line x1="369.0" y1="33.90" x2="371.0" y2="33.90" stroke="#444" stroke-width="0.6"/>
<text x="367.40" y="35.85" font-size="5.4" text-anchor="end" font-weight="normal" font-style="normal" fill="#3c3c3c" stroke="#3c3c3c" stroke-width="0.12" >SDHB</text>
<rect x="375.50" y="39.53" width="70.80" height="8.20" fill="#4e943c" />
<line x1="369.0" y1="43.63" x2="371.0" y2="43.63" stroke="#444" stroke-width="0.6"/>
<text x="367.40" y="45.59" font-size="5.4" text-anchor="end" font-weight="normal" font-style="normal" fill="#3c3c3c" stroke="#3c3c3c" stroke-width="0.12" >CDKN2A</text>
<rect x="375.50" y="49.27" width="23.60" height="8.20" fill="#de3a32" />
<rect x="399.10" y="49.27" width="47.20" height="8.20" fill="#4e943c" />
<line x1="369.0" y1="53.37" x2="371.0" y2="53.37" stroke="#444" stroke-width="0.6"/>
<text x="367.40" y="55.32" font-size="5.4" text-anchor="end" font-weight="normal" font-style="normal" fill="#3c3c3c" stroke="#3c3c3c" stroke-width="0.12" >NOTCH4</text>
<rect x="375.50" y="59.00" width="47.20" height="8.20" fill="#4e943c" />
<line x1="369.0" y1="63.10" x2="371.0" y2="63.10" stroke="#444" stroke-width="0.6"/>
<text x="367.40" y="65.05" font-size="5.4" text-anchor="end" font-weight="normal" font-style="normal" fill="#3c3c3c" stroke="#3c3c3c" stroke-width="0.12" >ABCC2</text>
<rect x="375.50" y="68.74" width="47.20" height="8.20" fill="#4e943c" />
<line x1="369.0" y1="72.84" x2="371.0" y2="72.84" stroke="#444" stroke-width="0.6"/>
<text x="367.40" y="74.79" font-size="5.4" text-anchor="end" font-weight="normal" font-style="normal" fill="#3c3c3c" stroke="#3c3c3c" stroke-width="0.12" >ACVR1B</text>
<rect x="375.50" y="78.47" width="47.20" height="8.20" fill="#4e943c" />
<line x1="369.0" y1="82.57" x2="371.0" y2="82.57" stroke="#444" stroke-width="0.6"/>
<text x="367.40" y="84.52" font-size="5.4" text-anchor="end" font-weight="normal" font-style="normal" fill="#3c3c3c" stroke="#3c3c3c" stroke-width="0.12" >CDK12</text>
<rect x="375.50" y="88.21" width="47.20" height="8.20" fill="#4e943c" />
<line x1="369.0" y1="92.31" x2="371.0" y2="92.31" stroke="#444" stroke-width="0.6"/>
<text x="367.40" y="94.26" font-size="5.4" text-anchor="end" font-weight="normal" font-style="normal" fill="#3c3c3c" stroke="#3c3c3c" stroke-width="0.12" >CUBN</text>
<rect x="375.50" y="97.94" width="47.20" height="8.20" fill="#4e943c" />
<line x1="369.0" y1="102.04" x2="371.0" y2="102.04" stroke="#444" stroke-width="0.6"/>
<text x="367.40" y="103.99" font-size="5.4" text-anchor="end" font-weight="normal" font-style="normal" fill="#3c3c3c" stroke="#3c3c3c" stroke-width="0.12" >IL7R</text>
<rect x="375.50" y="107.68" width="47.20" height="8.20" fill="#4e943c" />
<line x1="369.0" y1="111.78" x2="371.0" y2="111.78" stroke="#444" stroke-width="0.6"/>
<text x="367.40" y="113.73" font-size="5.4" text-anchor="end" font-weight="normal" font-style="normal" fill="#3c3c3c" stroke="#3c3c3c" stroke-width="0.12" >KMT2C</text>
<rect x="375.50" y="117.41" width="47.20" height="8.20" fill="#4e943c" />
<line x1="369.0" y1="121.51" x2="371.0" y2="121.51" stroke="#444" stroke-width="0.6"/>
<text x="367.40" y="123.46" font-size="5.4" text-anchor="end" font-weight="normal" font-style="normal" fill="#3c3c3c" stroke="#3c3c3c" stroke-width="0.12" >LRP1B</text>
<rect x="375.50" y="127.15" width="47.20" height="8.20" fill="#4e943c" />
<line x1="369.0" y1="131.25" x2="371.0" y2="131.25" stroke="#444" stroke-width="0.6"/>
<text x="367.40" y="133.20" font-size="5.4" text-anchor="end" font-weight="normal" font-style="normal" fill="#3c3c3c" stroke="#3c3c3c" stroke-width="0.12" >NF2</text>
<rect x="375.50" y="136.88" width="47.20" height="8.20" fill="#4e943c" />
<line x1="369.0" y1="140.98" x2="371.0" y2="140.98" stroke="#444" stroke-width="0.6"/>
<text x="367.40" y="142.93" font-size="5.4" text-anchor="end" font-weight="normal" font-style="normal" fill="#3c3c3c" stroke="#3c3c3c" stroke-width="0.12" >PKHD1</text>
<rect x="375.50" y="146.62" width="47.20" height="8.20" fill="#4e943c" />
<line x1="369.0" y1="150.72" x2="371.0" y2="150.72" stroke="#444" stroke-width="0.6"/>
<text x="367.40" y="152.67" font-size="5.4" text-anchor="end" font-weight="normal" font-style="normal" fill="#3c3c3c" stroke="#3c3c3c" stroke-width="0.12" >PRKDC</text>
<rect x="375.50" y="156.35" width="47.20" height="8.20" fill="#4e943c" />
<line x1="369.0" y1="160.45" x2="371.0" y2="160.45" stroke="#444" stroke-width="0.6"/>
<text x="367.40" y="162.40" font-size="5.4" text-anchor="end" font-weight="normal" font-style="normal" fill="#3c3c3c" stroke="#3c3c3c" stroke-width="0.12" >RET</text>
<rect x="375.50" y="166.09" width="47.20" height="8.20" fill="#4e943c" />
<line x1="369.0" y1="170.19" x2="371.0" y2="170.19" stroke="#444" stroke-width="0.6"/>
<text x="367.40" y="172.14" font-size="5.4" text-anchor="end" font-weight="normal" font-style="normal" fill="#3c3c3c" stroke="#3c3c3c" stroke-width="0.12" >TP53</text>
<rect x="371.00" y="28.60" width="103.70" height="146.70" fill="none" stroke="#858585" stroke-width="0.55"/>
<text x="373.70" y="188.60" font-size="7.3" text-anchor="start" font-weight="bold" font-style="normal" fill="#222" stroke="#222" stroke-width="0.12" >Somatic mutations</text>
<rect x="371.00" y="192.60" width="103.70" height="31.00" fill="#ffffff" stroke="#858585" stroke-width="0.55"/>
<line x1="375.50" y1="192.6" x2="375.50" y2="223.6" stroke="#dcdcdc" stroke-width="0.5"/>
<line x1="387.30" y1="192.6" x2="387.30" y2="223.6" stroke="#e8e8e8" stroke-width="0.4"/>
<line x1="399.10" y1="192.6" x2="399.10" y2="223.6" stroke="#dcdcdc" stroke-width="0.5"/>
<line x1="410.90" y1="192.6" x2="410.90" y2="223.6" stroke="#e8e8e8" stroke-width="0.4"/>
<line x1="422.70" y1="192.6" x2="422.70" y2="223.6" stroke="#dcdcdc" stroke-width="0.5"/>
<line x1="434.50" y1="192.6" x2="434.50" y2="223.6" stroke="#e8e8e8" stroke-width="0.4"/>
<line x1="446.30" y1="192.6" x2="446.30" y2="223.6" stroke="#dcdcdc" stroke-width="0.5"/>
<line x1="458.10" y1="192.6" x2="458.10" y2="223.6" stroke="#e8e8e8" stroke-width="0.4"/>
<line x1="469.90" y1="192.6" x2="469.90" y2="223.6" stroke="#dcdcdc" stroke-width="0.5"/>
<line x1="371.0" y1="198.55" x2="474.7" y2="198.55" stroke="#dcdcdc" stroke-width="0.5"/>
<line x1="371.0" y1="207.95" x2="474.7" y2="207.95" stroke="#dcdcdc" stroke-width="0.5"/>
<line x1="371.0" y1="217.35" x2="474.7" y2="217.35" stroke="#dcdcdc" stroke-width="0.5"/>
<rect x="375.50" y="194.60" width="47.20" height="7.90" fill="#4e943c" />
<line x1="369.0" y1="198.55" x2="371.0" y2="198.55" stroke="#444" stroke-width="0.6"/>
<text x="367.40" y="200.50" font-size="5.4" text-anchor="end" font-weight="normal" font-style="normal" fill="#3c3c3c" stroke="#3c3c3c" stroke-width="0.12" >HRAS</text>
<rect x="375.50" y="204.00" width="23.60" height="7.90" fill="#4e943c" />
<rect x="399.10" y="204.00" width="23.60" height="7.90" fill="#4675ad" />
<line x1="369.0" y1="207.95" x2="371.0" y2="207.95" stroke="#444" stroke-width="0.6"/>
<text x="367.40" y="209.90" font-size="5.4" text-anchor="end" font-weight="normal" font-style="normal" fill="#3c3c3c" stroke="#3c3c3c" stroke-width="0.12" >NF1</text>
<rect x="375.50" y="213.40" width="23.60" height="7.90" fill="#6e3f9e" />
<rect x="399.10" y="213.40" width="23.60" height="7.90" fill="#4675ad" />
<line x1="369.0" y1="217.35" x2="371.0" y2="217.35" stroke="#444" stroke-width="0.6"/>
<text x="367.40" y="219.30" font-size="5.4" text-anchor="end" font-weight="normal" font-style="normal" fill="#3c3c3c" stroke="#3c3c3c" stroke-width="0.12" >SETD2</text>
<rect x="371.00" y="192.60" width="103.70" height="31.00" fill="none" stroke="#858585" stroke-width="0.55"/>
<line x1="375.50" y1="223.6" x2="375.50" y2="225.8" stroke="#444" stroke-width="0.6"/>
<text x="375.50" y="230.80" font-size="5.3" text-anchor="middle" font-weight="normal" font-style="normal" fill="#3c3c3c" stroke="#3c3c3c" stroke-width="0.12" >0</text>
<line x1="399.10" y1="223.6" x2="399.10" y2="225.8" stroke="#444" stroke-width="0.6"/>
<text x="399.10" y="230.80" font-size="5.3" text-anchor="middle" font-weight="normal" font-style="normal" fill="#3c3c3c" stroke="#3c3c3c" stroke-width="0.12" >1</text>
<line x1="422.70" y1="223.6" x2="422.70" y2="225.8" stroke="#444" stroke-width="0.6"/>
<text x="422.70" y="230.80" font-size="5.3" text-anchor="middle" font-weight="normal" font-style="normal" fill="#3c3c3c" stroke="#3c3c3c" stroke-width="0.12" >2</text>
<line x1="446.30" y1="223.6" x2="446.30" y2="225.8" stroke="#444" stroke-width="0.6"/>
<text x="446.30" y="230.80" font-size="5.3" text-anchor="middle" font-weight="normal" font-style="normal" fill="#3c3c3c" stroke="#3c3c3c" stroke-width="0.12" >3</text>
<line x1="469.90" y1="223.6" x2="469.90" y2="225.8" stroke="#444" stroke-width="0.6"/>
<text x="469.90" y="230.80" font-size="5.3" text-anchor="middle" font-weight="normal" font-style="normal" fill="#3c3c3c" stroke="#3c3c3c" stroke-width="0.12" >4</text>
<text x="484.60" y="93.80" font-size="6.9" text-anchor="start" font-weight="normal" font-style="normal" fill="#222" stroke="#222" stroke-width="0.12" >Variant class</text>
<rect x="484.80" y="98.50" width="9.50" height="9.30" fill="#4675ad" />
<text x="499.00" y="105.10" font-size="5.3" text-anchor="start" font-weight="normal" font-style="normal" fill="#222" stroke="#222" stroke-width="0.12" >Frame_Shift_Del</text>
<rect x="484.80" y="109.62" width="9.50" height="9.30" fill="#f07f34" />
<text x="499.00" y="116.22" font-size="5.3" text-anchor="start" font-weight="normal" font-style="normal" fill="#222" stroke="#222" stroke-width="0.12" >In_Frame_Del</text>
<rect x="484.80" y="120.74" width="9.50" height="9.30" fill="#4e943c" />
<text x="499.00" y="127.34" font-size="5.3" text-anchor="start" font-weight="normal" font-style="normal" fill="#222" stroke="#222" stroke-width="0.12" >Missense_Mutation</text>
<rect x="484.80" y="131.86" width="9.50" height="9.30" fill="#de3a32" />
<text x="499.00" y="138.46" font-size="5.3" text-anchor="start" font-weight="normal" font-style="normal" fill="#222" stroke="#222" stroke-width="0.12" >Nonsense_Mutation</text>
<rect x="484.80" y="142.98" width="9.50" height="9.30" fill="#6e3f9e" />
<text x="499.00" y="149.58" font-size="5.3" text-anchor="start" font-weight="normal" font-style="normal" fill="#222" stroke="#222" stroke-width="0.12" >Frame_Shift_Ins</text>
<rect x="484.80" y="154.10" width="9.50" height="9.30" fill="#f5a96a" />
<text x="499.00" y="160.70" font-size="5.3" text-anchor="start" font-weight="normal" font-style="normal" fill="#222" stroke="#222" stroke-width="0.12" >Splice_Site</text>
</svg>
</body></html>
